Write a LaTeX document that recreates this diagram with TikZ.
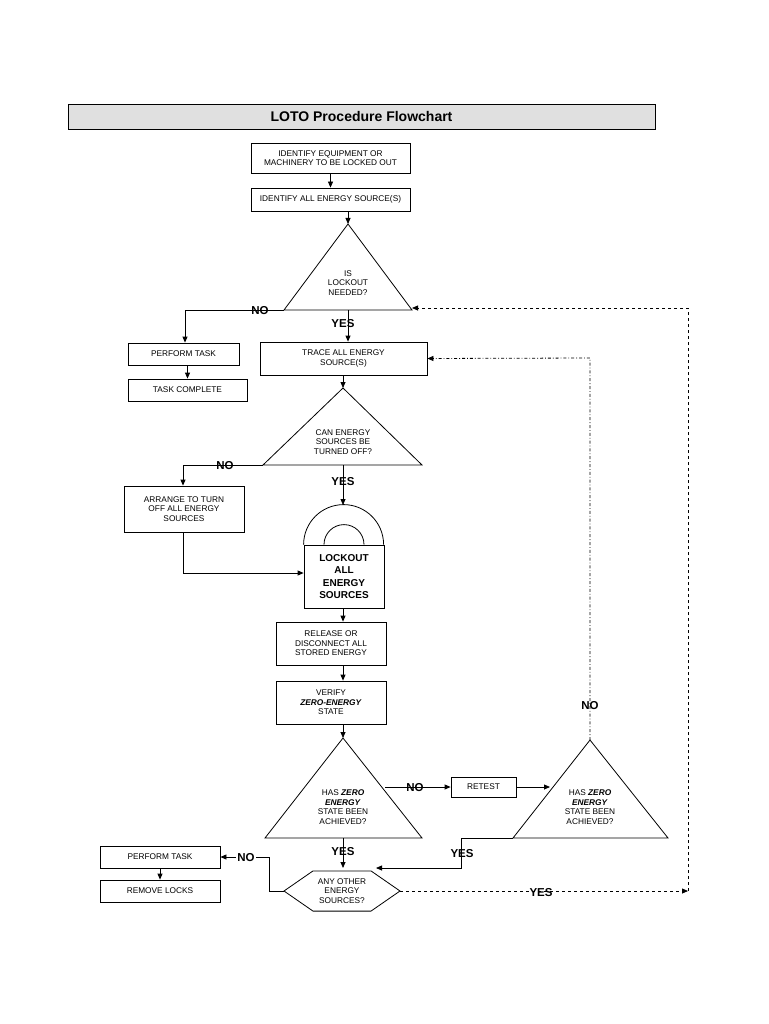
\documentclass[tikz,border=0pt]{standalone}
\usepackage{fontspec}
\setmainfont{Liberation Sans}
\usetikzlibrary{arrows.meta,shapes.geometric}
\begin{document}
\begin{tikzpicture}[x=1pt,y=-1pt,
 box/.style={draw,thick,minimum height=22pt,align=center,font=\fontsize{8.3}{9.5}\selectfont,inner sep=1pt},
 ln/.style={thick},
 ar/.style={thick,-{Triangle[length=6pt,width=5pt]}},
 lab/.style={font=\bfseries\fontsize{11.5}{12}\selectfont},
 tt/.style={align=center,font=\fontsize{8.3}{9.5}\selectfont},
 tri/.style={draw,thick,line join=miter}]
\useasboundingbox (0,0) rectangle (768,1024);
\node[draw,thick,fill=black!12,minimum width=587pt,minimum height=25pt,font=\bfseries\fontsize{14}{16}\selectfont] (title) at (361.5,116.5) {LOTO Procedure Flowchart};
\node[box,minimum width=159pt,minimum height=30pt] (b1) at (330.5,158) {IDENTIFY EQUIPMENT OR\\MACHINERY TO BE LOCKED OUT};
\node[box,minimum width=159pt,minimum height=23pt] (b2) at (330.5,199.5) {IDENTIFY ALL ENERGY SOURCE(S)};
\draw[ar] (b1) -- (b2);
% triangle 1
\coordinate (t1a) at (348,224); \coordinate (t1l) at (284,310); \coordinate (t1r) at (412,310); \coordinate (t1b) at (348,310);
\draw[tri] (t1a) -- (t1l) -- (t1r) -- cycle;
\node[tt] (t1) at (348,283) {IS\\LOCKOUT\\NEEDED?};
\draw[ar] (b2.south-|t1a) -- (t1a);
\node[box,minimum width=111pt] (pt1) at (183.5,354) {PERFORM TASK};
\node[box,minimum width=119pt] (tc) at (187.5,390) {TASK COMPLETE};
\coordinate (n1) at (185,310);
\draw[ar] (t1l) -- (n1) -- (n1|-pt1.north);
\draw[ar] (pt1.south-|tc) -- (tc);
\node[lab] (no1) at (260,311) {NO};
\node[box,minimum width=167pt,minimum height=33pt] (trace) at (343.5,358.5) {TRACE ALL ENERGY\\SOURCE(S)};
\draw[ar] (t1b) -- (t1b|-trace.north);
\node[lab] (yes1) at (343,324) {YES};
% triangle 2
\coordinate (t2a) at (343,388); \coordinate (t2l) at (263,465); \coordinate (t2r) at (422,465); \coordinate (t2b) at (343,465);
\draw[tri] (t2a) -- (t2l) -- (t2r) -- cycle;
\node[tt] (t2) at (343,442) {CAN ENERGY\\SOURCES BE\\TURNED OFF?};
\draw[ar] (trace.south-|t2a) -- (t2a);
\node[box,minimum width=120pt,minimum height=46pt] (arr) at (184,509) {ARRANGE TO TURN\\OFF ALL ENERGY\\SOURCES};
\coordinate (n2) at (183,465);
\draw[ar] (t2l) -- (n2) -- (n2|-arr.north);
\node[lab] (no2) at (225,466) {NO};
\node[lab] (yes2) at (343,482) {YES};
% padlock
\node[draw,thick,minimum width=80pt,minimum height=63pt,align=center,font=\bfseries\fontsize{10}{12.5}\selectfont] (lock) at (344,576.5) {LOCKOUT\\ALL\\ENERGY\\SOURCES};
\draw[thick] (lock.north west) arc[start angle=180,end angle=0,radius=40pt];
\draw[thick] ([xshift=20pt]lock.north) arc[start angle=0,end angle=180,radius=20pt];
\coordinate (lt) at (343,505);
\draw[ar] (t2b) -- (lt);
\coordinate (n3) at (183,573);
\draw[ar] (arr.south-|n3) -- (n3) -- (n3-|lock.west);
\node[box,minimum width=110pt,minimum height=43pt] (rel) at (331,643.5) {RELEASE OR\\DISCONNECT ALL\\STORED ENERGY};
\draw[ar] (lock.south-|343,0) -- (rel.north-|343,0);
\node[box,minimum width=110pt,minimum height=43pt] (ver) at (331,702.5) {VERIFY\\\textbf{\textit{ZERO-ENERGY}}\\STATE};
\draw[ar] (rel.south-|343,0) -- (ver.north-|343,0);
% triangle 3
\coordinate (t3a) at (343,738); \coordinate (t3l) at (265,838); \coordinate (t3r) at (422,838); \coordinate (t3b) at (343,838);
\draw[tri] (t3a) -- (t3l) -- (t3r) -- cycle;
\node[tt] (t3) at (343,807) {HAS \textbf{\textit{ZERO}}\\\textbf{\textit{ENERGY}}\\STATE BEEN\\ACHIEVED?};
\draw[ar] (ver.south-|t3a) -- (t3a);
\node[box,minimum width=65pt,minimum height=20pt] (ret) at (483.5,787) {RETEST};
\coordinate (t3s) at (385,787);
\draw[ar] (t3s) -- (ret.west);
\node[lab] (no3) at (415,788) {NO};
% triangle 4
\coordinate (t4a) at (590,740); \coordinate (t4l) at (513,838); \coordinate (t4r) at (668,838);
\draw[tri] (t4a) -- (t4l) -- (t4r) -- cycle;
\node[tt] (t4) at (590,807) {HAS \textbf{\textit{ZERO}}\\\textbf{\textit{ENERGY}}\\STATE BEEN\\ACHIEVED?};
\coordinate (t4s) at (550,787);
\draw[ar] (ret.east) -- (t4s);
\node[lab] (no4) at (590,706) {NO};
\coordinate (c4) at (590,358);
\draw[ar,dash dot] (t4a) -- (c4) -- (trace.east);
% hexagon
\node[draw,thick,regular polygon,regular polygon sides=6,shape border rotate=0,minimum size=116pt,yscale=0.4,xscale=1] (hex) at (342,891) {};
\node[tt] (hext) at (342,891) {ANY OTHER\\ENERGY\\SOURCES?};
\draw[ar] (t3b) -- (343,868);
\node[lab] (yes3) at (343,852) {YES};
\coordinate (y4) at (461,838);
\draw[ar] (t4l) -- (y4) -- (461,868) -- (376,868);
\node[lab] (yes4) at (462,854) {YES};
\node[box,minimum width=120pt] (pt2) at (160,857) {PERFORM TASK};
\node[box,minimum width=120pt] (rl) at (160,891) {REMOVE LOCKS};
\draw[ar] (pt2) -- (rl);
\coordinate (h1) at (269,891); \coordinate (h2) at (269,857);
\draw[ar] (hex.west) -- (h1) -- (h2) -- (pt2.east);
\node[lab,fill=white,inner sep=1pt] (no5) at (246,858) {NO};
\coordinate (d1) at (688,891); \coordinate (d2) at (688,308);
\draw[ar,dashed] (hex.east) -- (d1);
\draw[ar,dashed] (d1) -- (d2) -- (t1r|-d2);
\node[lab] (yes5) at (541,893) {YES};
\end{tikzpicture}
\end{document}
